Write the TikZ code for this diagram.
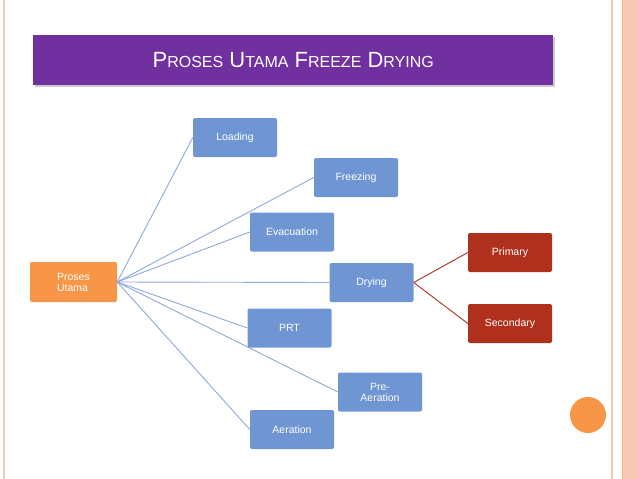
\documentclass[tikz,border=0pt]{standalone}
\usepackage{fontspec}
\setmainfont{Liberation Sans}
\definecolor{bl}{HTML}{7095D3}
\definecolor{ln}{HTML}{8EA9DB}
\definecolor{og}{HTML}{F79646}
\definecolor{rd}{HTML}{B0301E}
\definecolor{pu}{HTML}{7030A0}
\definecolor{pe}{HTML}{F8C9B4}
\tikzset{x=1pt,y=-1pt,
 bx/.style={fill=bl,text=white,font=\fontsize{10.5}{11}\selectfont,align=center,minimum width=84pt,minimum height=39pt,inner sep=2pt,rounded corners=2pt},
 rb/.style={bx,fill=rd},
 ob/.style={bx,fill=og,align=left,minimum width=87pt,minimum height=40pt},
 cn/.style={ln,line width=0.9pt},
 rc/.style={rd,line width=0.9pt}}
\begin{document}
\begin{tikzpicture}
\useasboundingbox (0,0) rectangle (638,479);
\fill[white] (0,0) rectangle (638,479);
\draw[pe,line width=1.2pt] (4,0)--(4,479);
\draw[pe,line width=1.2pt] (612,0)--(612,479);
\fill[pe] (622,0) rectangle (638,479);
\draw[og!70,line width=0.6pt] (622,0)--(622,479);
\fill[gray!40] (35,37) rectangle (555,87);
\node[fill=pu,minimum width=520pt,minimum height=50pt,inner sep=0pt,anchor=north west] (t) at (33,35) {};
\node[text=white,font=\fontsize{22}{24}\selectfont] at (t) {P{\fontsize{16}{18}\selectfont ROSES} U{\fontsize{16}{18}\selectfont TAMA} F{\fontsize{16}{18}\selectfont REEZE} D{\fontsize{16}{18}\selectfont RYING}};
\fill[og] (588,415) circle (18);
\node[ob] (pu) at (73.5,282) {Proses\\Utama};
\node[bx] (lo) at (235,137.5) {Loading};
\node[bx] (fr) at (356,177.5) {Freezing};
\node[bx] (ev) at (292,232) {Evacuation};
\node[bx] (dr) at (371.5,282.5) {Drying};
\node[bx] (pr) at (289.5,328) {PRT};
\node[bx] (pa) at (380,392) {Pre-\\Aeration};
\node[bx] (ae) at (292,429.5) {Aeration};
\node[rb] (pm) at (510,252.5) {Primary};
\node[rb] (se) at (510,323.5) {Secondary};
\foreach \n in {lo,fr,ev,dr,pr,pa,ae} \draw[cn] (pu.east) -- (\n.west);
\draw[rc] (dr.east) -- (pm.west);
\draw[rc] (dr.east) -- (se.west);
\end{tikzpicture}
\end{document}
